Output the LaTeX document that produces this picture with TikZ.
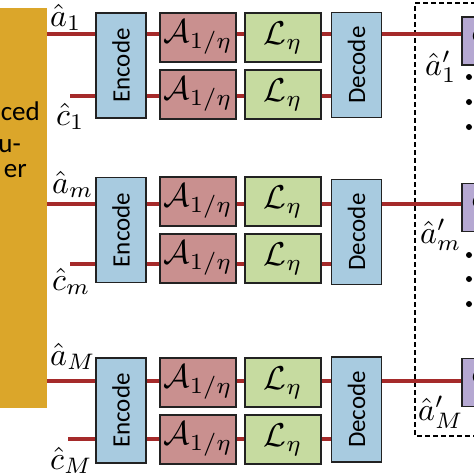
\documentclass[tikz,border=0pt]{standalone}
\usepackage{fontspec}
\setsansfont{Carlito}
\definecolor{goldc}{HTML}{DBA62A}
\definecolor{wirec}{HTML}{A52A2A}
\definecolor{bluec}{HTML}{A8CBE0}
\definecolor{rosec}{HTML}{C9908F}
\definecolor{greenc}{HTML}{C6DBA0}
\definecolor{purplec}{HTML}{B5A8D2}
\definecolor{edgec}{HTML}{222222}
\newcommand{\labm}[1]{\scalebox{3.2}{$#1$}}
\newcommand{\boxm}[1]{\scalebox{3.3}{$#1$}}
\tikzset{
  blk/.style={draw=edgec, line width=1.5pt, inner sep=0pt},
  codebox/.style={blk, fill=bluec, minimum width=50pt, minimum height=105pt,
    font=\sffamily\fontsize{25}{30}\selectfont},
  abox/.style={blk, fill=rosec, minimum width=76pt, minimum height=49pt},
  lbox/.style={blk, fill=greenc, minimum width=76pt, minimum height=49pt},
  pbox/.style={blk, fill=purplec, minimum width=40pt, minimum height=48pt, anchor=west},
  wire/.style={draw=wirec, line width=3.3pt},
  lab/.style={inner sep=0pt, anchor=base west},
  goldtxt/.style={inner sep=0pt, anchor=base east, font=\sffamily\fontsize{27}{30}\selectfont},
  dotc/.style={fill=black, circle, inner sep=0pt, minimum size=6pt},
  dashbox/.style={draw=black, line width=1.5pt, dash pattern=on 5pt off 3pt}
}
\begin{document}
\begin{tikzpicture}[x=1pt,y=-1pt]
\useasboundingbox (0,0) rectangle (474,474);
\clip (0,0) rectangle (474,474);
% gold block
\fill[goldc] (-10,8) rectangle (47,408);
\node[goldtxt] (gt1) at (40,120) {ced};
\node[goldtxt] (gt2) at (21,152) {u-};
\node[goldtxt] (gt3) at (27,177) {er};
% dashed region
\draw[dashbox] (500,3) -- (415,3) -- (415,436) -- (500,436);
% groups
\foreach \g/\ey/\dy/\ra/\rb/\wa/\wb/\py/\cx in {1/65.5/65/37.5/94.5/34/96/41/70, m/230/232/201.5/258.5/204/264/207.5/70, M/410.5/409.5/382.5/439.5/381/439/382.5/68}{
  \node[codebox] (E\g) at (121,\ey) {\rotatebox{90}{Encode}};
  \node[abox] (Aa\g) at (198,\ra) {\boxm{\mathcal{A}_{1/\eta}}};
  \node[abox] (Ab\g) at (198,\rb) {\boxm{\mathcal{A}_{1/\eta}}};
  \node[lbox] (La\g) at (283,\ra) {\boxm{\mathcal{L}_{\eta}}};
  \node[lbox] (Lb\g) at (283,\rb) {\boxm{\mathcal{L}_{\eta}}};
  \node[codebox] (D\g) at (356.5,\dy) {\rotatebox{90}{Decode}};
  \node[pbox] (P\g) at (461,\py) {};
  \node[lab] (Pt\g) at (471.5,\py) {\labm{a}};
  \coordinate (ga\g) at (47,\wa);
  \coordinate (gb\g) at (\cx,\wb);
  \draw[wire] (ga\g) -- (ga\g -| E\g.west);
  \draw[wire] (E\g.east |- ga\g) -- (ga\g -| Aa\g.west);
  \draw[wire] (Aa\g.east |- ga\g) -- (ga\g -| La\g.west);
  \draw[wire] (La\g.east |- ga\g) -- (ga\g -| D\g.west);
  \draw[wire] (D\g.east |- ga\g) -- (ga\g -| P\g.west);
  \draw[wire] (gb\g) -- (gb\g -| E\g.west);
  \draw[wire] (E\g.east |- gb\g) -- (gb\g -| Ab\g.west);
  \draw[wire] (Ab\g.east |- gb\g) -- (gb\g -| Lb\g.west);
  \draw[wire] (Lb\g.east |- gb\g) -- (gb\g -| D\g.west);
}
% labels
\node[lab] (la1) at (50,26) {\labm{\hat{a}_1}};
\node[lab] (lc1) at (56,125) {\labm{\hat{c}_1}};
\node[lab] (lam) at (52,193) {\labm{\hat{a}_m}};
\node[lab] (lcm) at (52,290) {\labm{\hat{c}_m}};
\node[lab] (laM) at (50,365) {\labm{\hat{a}_M}};
\node[lab] (lcM) at (50,469) {\labm{\hat{c}_M}};
\node[lab] (lo1) at (425,75) {\labm{\hat{a}'_1}};
\node[lab] (lom) at (420,243) {\labm{\hat{a}'_m}};
\node[lab] (loM) at (418,420) {\labm{\hat{a}'_M}};
% dots
\foreach \i/\y in {1/77, 2/102, 3/127, 4/255, 5/279, 6/304}{
  \node[dotc] (dot\i) at (469,\y) {};
}
\end{tikzpicture}
\end{document}
